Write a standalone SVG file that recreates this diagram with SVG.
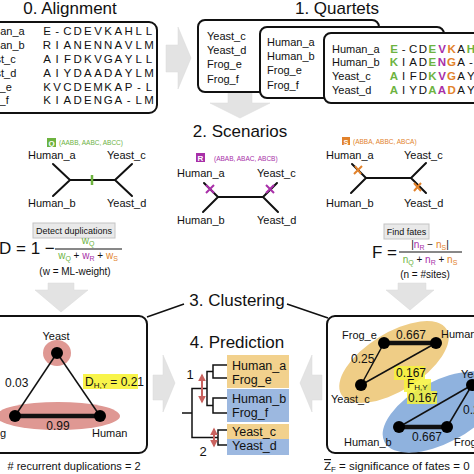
<svg xmlns="http://www.w3.org/2000/svg" width="474" height="474" viewBox="0 0 474 474">
<defs>
<style>
text{font-family:"Liberation Sans",Arial,Helvetica,sans-serif;fill:#111}
.title{font-size:17px}
.nm{font-size:11px}
.seq{font-size:11.5px}
.sm{font-size:9px}
.box{fill:#fff;stroke:#111;stroke-width:2}
.arr{fill:#e3e3e3;stroke:#d8d8d8;stroke-width:0.5}
.br{stroke:#111;stroke-width:2;fill:none;stroke-linecap:round}
.g{fill:#6db33f}.p{fill:#a82fa8}.o{fill:#e2822b}
.btn{fill:#e9e9e9;stroke:#c4c4c4;stroke-width:1}
.node{fill:#000}
</style>
<marker id="rh" viewBox="0 0 10 10" refX="8" refY="5" markerWidth="4" markerHeight="4" orient="auto-start-reverse"><path d="M0,0 L10,5 L0,10 z" fill="#c9625f"/></marker>
</defs>
<rect x="0" y="0" width="474" height="474" fill="#fff"/>

<!-- big gray arrows -->
<g id="arrows">
<polygon class="arr" points="166,45 178,45 178,27 191,58 178,89 178,72 166,72"/>
<polygon class="arr" points="228,92 252,92 252,103 270,103 240,118 210,103 228,103"/>
<polygon class="arr" points="48,283 74,283 74,290 88,290 61,312 35,290 48,290"/>
<polygon class="arr" points="398,283 426,283 426,290 434,290 410,310 386,290 398,290"/>
<polygon class="arr" points="153,375 163,375 163,355 175,383 163,412 163,400 153,400"/>
<polygon class="arr" points="322,375 312,375 312,355 300,383 312,412 312,400 322,400"/>
</g>

<!-- 0. Alignment -->
<g id="alignment">
<text class="title" x="70" y="14" text-anchor="middle">0. Alignment</text>
<rect class="box" x="-20" y="22" width="177" height="91" rx="8"/>
<g class="nm">
<text x="-23" y="35">Human_a</text>
<text x="-23" y="49">Human_b</text>
<text x="-23" y="63">Yeast_c</text>
<text x="-23" y="77">Yeast_d</text>
<text x="-23" y="91">Frog_e</text>
<text x="-23" y="104">Frog_f</text>
</g>
<g class="seq" text-anchor="middle">
<text x="47 57.2 67.4 77.6 87.8 98 108.2 118.4 128.6 138.8 149" y="35">E-CDEVKAHLL</text>
<text x="47 57.2 67.4 77.6 87.8 98 108.2 118.4 128.6 138.8 149" y="49">RIANENNAVLM</text>
<text x="47 57.2 67.4 77.6 87.8 98 108.2 118.4 128.6 138.8 149" y="63">AIFDKVGAYLL</text>
<text x="47 57.2 67.4 77.6 87.8 98 108.2 118.4 128.6 138.8 149" y="77">AIYDAADAYLM</text>
<text x="47 57.2 67.4 77.6 87.8 98 108.2 118.4 128.6 138.8 149" y="91">KVCDEMKAP-L</text>
<text x="47 57.2 67.4 77.6 87.8 98 108.2 118.4 128.6 138.8 149" y="104">KIADENGA-LM</text>
</g>
</g>

<!-- 1. Quartets -->
<g id="quartets">
<text class="title" x="337" y="14" text-anchor="middle">1. Quartets</text>
<rect class="box" x="198" y="20" width="181" height="72" rx="7"/>
<g class="nm">
<text x="207" y="40">Yeast_c</text>
<text x="207" y="54">Yeast_d</text>
<text x="207" y="68">Frog_e</text>
<text x="207" y="83">Frog_f</text>
</g>
<rect class="box" x="260" y="27" width="184" height="71" rx="7"/>
<g class="nm">
<text x="267" y="46">Human_a</text>
<text x="267" y="60">Human_b</text>
<text x="267" y="74">Frog_e</text>
<text x="267" y="89">Frog_f</text>
</g>
<rect class="box" x="324" y="33" width="170" height="70" rx="7"/>
<g class="nm">
<text x="332" y="53">Human_a</text>
<text x="332" y="66">Human_b</text>
<text x="332" y="80">Yeast_c</text>
<text x="332" y="94">Yeast_d</text>
</g>
<g class="seq" text-anchor="middle" font-weight="bold">
<text y="53"><tspan class="g" x="394">E</tspan><tspan x="403.6 413.2 422.8" font-weight="normal">-CD</tspan><tspan class="g" x="432.4">E</tspan><tspan class="p" x="442">V</tspan><tspan class="o" x="451.6">K</tspan><tspan x="461.2" font-weight="normal">A</tspan><tspan class="g" x="470.8">H</tspan></text>
<text y="66"><tspan class="g" x="394">K</tspan><tspan x="403.6 413.2 422.8" font-weight="normal">IAD</tspan><tspan class="g" x="432.4">E</tspan><tspan class="p" x="442">N</tspan><tspan class="o" x="451.6">G</tspan><tspan x="461.2 470.8" font-weight="normal">A-</tspan></text>
<text y="80"><tspan class="g" x="394">A</tspan><tspan x="403.6 413.2 422.8" font-weight="normal">IFD</tspan><tspan class="g" x="432.4">K</tspan><tspan class="p" x="442">V</tspan><tspan class="o" x="451.6">G</tspan><tspan x="461.2 470.8" font-weight="normal">AY</tspan></text>
<text y="94"><tspan class="g" x="394">A</tspan><tspan x="403.6 413.2 422.8" font-weight="normal">IYD</tspan><tspan class="g" x="432.4">A</tspan><tspan class="p" x="442">A</tspan><tspan class="o" x="451.6">D</tspan><tspan x="461.2 470.8" font-weight="normal">AY</tspan></text>
</g>
</g>

<!-- 2. Scenarios -->
<text class="title" x="240" y="137" text-anchor="middle">2. Scenarios</text>

<g id="scenario-Q">
<rect x="47" y="138" width="9" height="9" fill="#6db33f"/>
<text x="51.5" y="146" font-size="8" font-weight="bold" text-anchor="middle" style="fill:#fff">Q</text>
<text x="59" y="145" font-size="6.5" class="g">(AABB, AABC, ABCC)</text>
<g class="nm">
<text x="28" y="159">Human_a</text>
<text x="107" y="159">Yeast_c</text>
<text x="28" y="207">Human_b</text>
<text x="107" y="207">Yeast_d</text>
</g>
<path class="br" d="M53,164 L70,180 L53,196 M70,180 L115,180 M132,164 L115,180 L132,196"/>
<line x1="92" y1="175" x2="92" y2="185" stroke="#6db33f" stroke-width="2.5"/>
</g>

<g id="scenario-R">
<rect x="196" y="153" width="9" height="9" fill="#a82fa8"/>
<text x="200.5" y="161" font-size="8" font-weight="bold" text-anchor="middle" style="fill:#fff">R</text>
<text x="214" y="161" font-size="6.5" class="p">(ABAB, ABAC, ABCB)</text>
<g class="nm">
<text x="177" y="177">Human_a</text>
<text x="257" y="177">Yeast_c</text>
<text x="177" y="224">Human_b</text>
<text x="257" y="224">Yeast_d</text>
</g>
<path class="br" d="M204,183 L218,197 L203,212 M218,197 L263,197 M277,183 L263,197 L278,212"/>
<path d="M206,185 L214,193 M214,185 L206,193 M266,185 L274,193 M274,185 L266,193" stroke="#a82fa8" stroke-width="2" fill="none"/>
</g>

<g id="scenario-S">
<rect x="342" y="137" width="8" height="8" fill="#e2822b"/>
<text x="346" y="144.5" font-size="7.5" font-weight="bold" text-anchor="middle" style="fill:#fff">S</text>
<text x="353" y="144" font-size="6.5" class="o">(ABBA, ABBC, ABCA)</text>
<g class="nm">
<text x="326" y="159">Human_a</text>
<text x="404" y="159">Yeast_c</text>
<text x="326" y="207">Human_b</text>
<text x="404" y="207">Yeast_d</text>
</g>
<path class="br" d="M352,164 L366,178 L351,193 M366,178 L411,178 M426,163 L411,178 L426,193"/>
<path d="M355,166 L361,174 M362,166 L354,174 M414,183 L421,191 M421,183 L414,191" stroke="#e2822b" stroke-width="2" fill="none"/>
</g>

<!-- Detect duplications / D formula -->
<g id="detect">
<rect class="btn" x="33" y="223" width="82" height="15"/>
<text class="sm" x="74" y="234" text-anchor="middle">Detect duplications</text>
<text x="-1" y="254" font-size="17">D = 1 −</text>
<text x="88" y="244" font-size="10" text-anchor="middle" class="g">w<tspan font-size="7" dy="2">Q</tspan></text>
<line x1="55" y1="249" x2="122" y2="249" stroke="#111" stroke-width="1"/>
<text x="88" y="259" font-size="10" text-anchor="middle"><tspan class="g">w</tspan><tspan class="g" font-size="7" dy="2">Q</tspan><tspan dy="-2"> + </tspan><tspan class="p">w</tspan><tspan class="p" font-size="7" dy="2">R</tspan><tspan dy="-2"> + </tspan><tspan class="o">w</tspan><tspan class="o" font-size="7" dy="2">S</tspan></text>
<text x="75" y="275" font-size="10" text-anchor="middle">(w = ML-weight)</text>
</g>

<!-- Find fates / F formula -->
<g id="fates">
<rect class="btn" x="384" y="224" width="45" height="15"/>
<text class="sm" x="406.5" y="235" text-anchor="middle">Find fates</text>
<text x="372" y="258" font-size="17">F =</text>
<text x="430" y="248" font-size="10" text-anchor="middle">|<tspan class="p">n</tspan><tspan class="p" font-size="7" dy="2">R</tspan><tspan dy="-2"> − </tspan><tspan class="o">n</tspan><tspan class="o" font-size="7" dy="2">S</tspan><tspan dy="-2">|</tspan></text>
<line x1="399" y1="252" x2="462" y2="252" stroke="#111" stroke-width="1"/>
<text x="430" y="263" font-size="10" text-anchor="middle"><tspan class="g">n</tspan><tspan class="g" font-size="7" dy="2">Q</tspan><tspan dy="-2"> + </tspan><tspan class="p">n</tspan><tspan class="p" font-size="7" dy="2">R</tspan><tspan dy="-2"> + </tspan><tspan class="o">n</tspan><tspan class="o" font-size="7" dy="2">S</tspan></text>
<text x="425" y="278" font-size="10" text-anchor="middle">(n = #sites)</text>
</g>

<!-- 3. Clustering -->
<g id="clustering-title">
<text class="title" x="237" y="306" text-anchor="middle">3. Clustering</text>
<path d="M147,317 L184,304 M287,304 L328,318" stroke="#111" stroke-width="1.5" fill="none"/>
</g>

<g id="cluster-left">
<rect class="box" x="-20" y="316" width="167" height="137" rx="8"/>
<ellipse cx="57" cy="353" rx="14" ry="13" fill="#df9893"/>
<ellipse cx="58" cy="416" rx="62" ry="14" fill="#df9893"/>
<line x1="57" y1="353" x2="15" y2="416" stroke="#111" stroke-width="1.5"/>
<line x1="57" y1="353" x2="100" y2="416" stroke="#111" stroke-width="1.5"/>
<line x1="15" y1="416" x2="100" y2="416" stroke="#111" stroke-width="4.5"/>
<circle class="node" cx="57" cy="353" r="6"/>
<circle class="node" cx="15" cy="416" r="6"/>
<circle class="node" cx="100" cy="416" r="6"/>
<text class="nm" x="56" y="340" text-anchor="middle">Yeast</text>
<text x="5" y="387" font-size="12">0.03</text>
<text x="58" y="430" font-size="12" text-anchor="middle">0.99</text>
<text class="nm" x="6" y="437" text-anchor="end">Frog</text>
<text class="nm" x="92" y="437">Human</text>
<rect x="83" y="374" width="55" height="15" fill="#f8f44a"/>
<text x="85" y="386" font-size="12">D<tspan font-size="8" dy="2">H,Y</tspan><tspan dy="-2"> = 0.21</tspan></text>
<text x="74" y="470" font-size="11" text-anchor="middle"># recurrent duplications = 2</text>
</g>

<!-- 4. Prediction -->
<g id="prediction">
<text class="title" x="237" y="348" text-anchor="middle">4. Prediction</text>
<rect x="227" y="355" width="62" height="33" fill="#f2d18d"/>
<rect x="227" y="389" width="62" height="33" fill="#9cb8e0"/>
<rect x="227" y="424" width="62" height="15" fill="#f2d18d"/>
<rect x="227" y="439" width="62" height="16" fill="#9cb8e0"/>
<g font-size="12.5">
<text x="232" y="370">Human_a</text>
<text x="232" y="384">Frog_e</text>
<text x="232" y="403">Human_b</text>
<text x="232" y="417">Frog_f</text>
<text x="232" y="436">Yeast_c</text>
<text x="232" y="450">Yeast_d</text>
</g>
<path d="M227,365 H213 V378 H227 M227,398 H213 V413 H227 M213,371.5 H207 V405.5 H213 M207,388.5 H192 V437.5 H218 M227,430 H218 V445 H227 M192,413 H182" stroke="#111" stroke-width="1.5" fill="none"/>
<line x1="202" y1="375" x2="202" y2="402" stroke="#c9625f" stroke-width="2" marker-start="url(#rh)" marker-end="url(#rh)"/>
<line x1="214" y1="429" x2="214" y2="446" stroke="#c9625f" stroke-width="2" marker-start="url(#rh)" marker-end="url(#rh)"/>
<text x="190" y="379" font-size="13" text-anchor="middle">1</text>
<text x="203" y="456" font-size="13" text-anchor="middle">2</text>
</g>

<g id="cluster-right">
<rect class="box" x="327" y="316" width="170" height="137" rx="8"/>
<ellipse cx="394" cy="362" rx="62" ry="29" fill="#efcd86" transform="rotate(-32 394 362)"/>
<ellipse cx="441" cy="412" rx="64" ry="31" fill="#8fb2de" transform="rotate(-28 441 412)"/>
<path d="M394,366 H425 V379 H431 V391 H437 V404 H407 V392 H404 V380 H394 Z" fill="#f6f23a" opacity="0.85"/>
<line x1="384" y1="343" x2="436" y2="343" stroke="#111" stroke-width="4.5"/>
<line x1="384" y1="343" x2="361" y2="385" stroke="#111" stroke-width="1.5"/>
<line x1="361" y1="385" x2="436" y2="343" stroke="#111" stroke-width="1.5"/>
<line x1="399" y1="427" x2="447" y2="427" stroke="#111" stroke-width="4.5"/>
<line x1="399" y1="427" x2="472" y2="385" stroke="#111" stroke-width="1.5"/>
<line x1="447" y1="427" x2="472" y2="385" stroke="#111" stroke-width="1.5"/>
<circle class="node" cx="384" cy="343" r="6"/>
<circle class="node" cx="436" cy="343" r="6"/>
<circle class="node" cx="361" cy="385" r="6"/>
<circle class="node" cx="472" cy="385" r="6"/>
<circle class="node" cx="399" cy="427" r="6"/>
<circle class="node" cx="447" cy="427" r="6"/>
<text class="nm" x="342" y="339">Frog_e</text>
<text x="396" y="339" font-size="12">0.667</text>
<text class="nm" x="441" y="338">Human_a</text>
<text x="351" y="363" font-size="12">0.25</text>
<text class="nm" x="331" y="403">Yeast_c</text>
<text x="396" y="377" font-size="12">0.167</text>
<text x="407" y="388" font-size="12">F<tspan font-size="8" dy="2">H,Y</tspan></text>
<text x="408" y="402" font-size="12">0.167</text>
<text class="nm" x="461" y="378">Yeast_d</text>
<text x="463" y="414" font-size="12">0.25</text>
<text class="nm" x="344" y="446">Human_b</text>
<text x="412" y="441" font-size="12">0.667</text>
<text class="nm" x="454" y="446">Frog_f</text>
<text x="324" y="470" font-size="11.5"><tspan text-decoration="overline">Z</tspan><tspan font-size="8" dy="2">F</tspan><tspan dy="-2"> = significance of fates = 0</tspan></text>
</g>
</svg>
